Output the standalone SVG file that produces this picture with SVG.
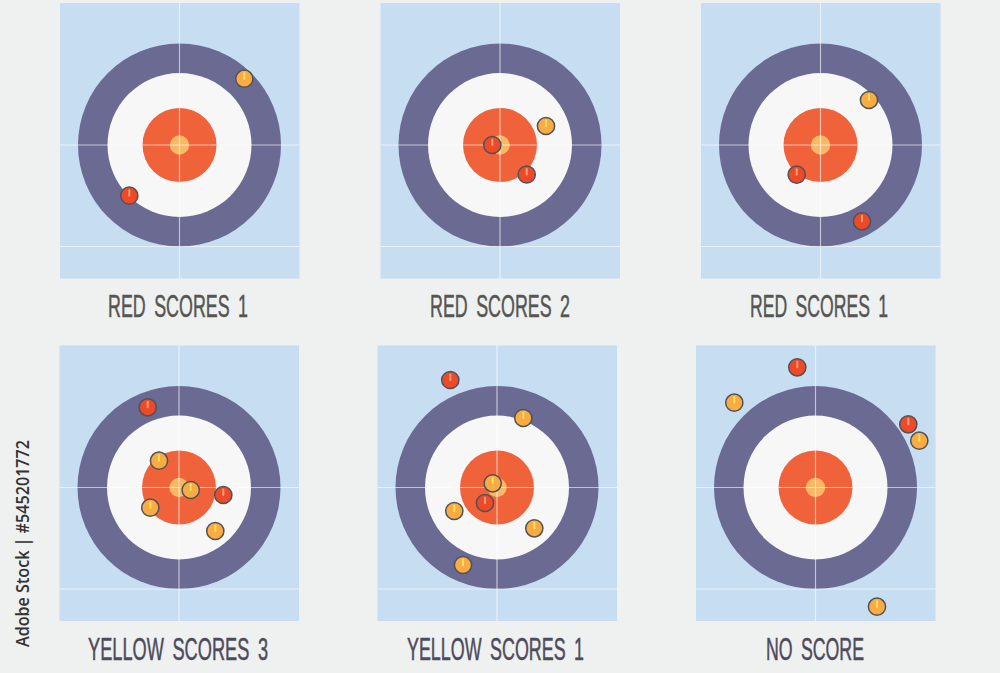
<svg xmlns="http://www.w3.org/2000/svg" xmlns:xlink="http://www.w3.org/1999/xlink" width="1000" height="673" viewBox="0 0 1000 673">
<style>
.bg{fill:#eff1f1}
.panel{fill:#c6ddf2}
.ring{fill:#6a6a93}
.house{fill:#f7f7f7}
.button{fill:#f0623a}
.tee{fill:#f8b865}
.guide{stroke:#ffffff;stroke-opacity:0.6;stroke-width:1.2;fill:none}
.sr{fill:#ee4a2a;stroke:#4f5358;stroke-width:1.5}
.sy{fill:#f9ab44;stroke:#4f5358;stroke-width:1.5}
.hr{stroke:#f5a070;stroke-width:2;stroke-linecap:round}
.hy{stroke:#fde15c;stroke-width:2;stroke-linecap:round}
.lbl{font-family:"Liberation Sans Narrow","Liberation Sans","DejaVu Sans",sans-serif;font-size:31px;text-anchor:middle;word-spacing:6px;stroke-width:0.5px}
.l1{fill:#555652;stroke:#555652}
.l2{fill:#4e4b5c;stroke:#4e4b5c}
.wm{font-family:"Open Sans","Noto Sans",sans-serif;font-weight:600;font-size:18px;fill:#333333}
</style>
<defs>
<g id="target">
<rect class="panel" x="-119.5" y="-142" width="239.5" height="275.5"/>
<circle class="ring" r="101.5"/>
<circle class="house" r="72"/>
<circle class="button" r="37"/>
<circle class="tee" r="9.7"/>
<line class="guide" x1="0" y1="-142" x2="0" y2="133.5"/>
<line class="guide" x1="-119.5" y1="0" x2="120" y2="0"/>
<line class="guide" x1="-119.5" y1="101.5" x2="120" y2="101.5"/>
</g>
<g id="rs"><circle class="sr" r="8.6"/><line class="hr" x1="0" y1="-5.5" x2="0" y2="0"/></g>
<g id="ys"><circle class="sy" r="8.6"/><line class="hy" x1="0" y1="-5.5" x2="0" y2="0"/></g>
</defs>
<rect class="bg" x="0" y="0" width="1000" height="673"/>

<g id="panel1">
<use xlink:href="#target" href="#target" x="179.5" y="145"/>
<use xlink:href="#ys" href="#ys" x="244.3" y="78.7"/>
<use xlink:href="#rs" href="#rs" x="129.3" y="195.7"/>
<text class="lbl l1" x="178" y="317" textLength="140" lengthAdjust="spacingAndGlyphs">RED SCORES 1</text>
</g>

<g id="panel2">
<use xlink:href="#target" href="#target" x="500" y="145"/>
<use xlink:href="#ys" href="#ys" x="546" y="126"/>
<use xlink:href="#rs" href="#rs" x="492.3" y="145"/>
<use xlink:href="#rs" href="#rs" x="526.7" y="174.5"/>
<text class="lbl l1" x="500" y="317" textLength="140" lengthAdjust="spacingAndGlyphs">RED SCORES 2</text>
</g>

<g id="panel3">
<use xlink:href="#target" href="#target" x="820.5" y="145"/>
<use xlink:href="#ys" href="#ys" x="869" y="100"/>
<use xlink:href="#rs" href="#rs" x="796.7" y="174.7"/>
<use xlink:href="#rs" href="#rs" x="862" y="221.3"/>
<text class="lbl l1" x="819" y="317" textLength="138" lengthAdjust="spacingAndGlyphs">RED SCORES 1</text>
</g>

<g id="panel4">
<use xlink:href="#target" href="#target" x="179" y="487.5"/>
<use xlink:href="#rs" href="#rs" x="147.7" y="407.3"/>
<use xlink:href="#ys" href="#ys" x="159" y="460.7"/>
<use xlink:href="#ys" href="#ys" x="190.7" y="490"/>
<use xlink:href="#rs" href="#rs" x="223.3" y="495"/>
<use xlink:href="#ys" href="#ys" x="150.3" y="507.7"/>
<use xlink:href="#ys" href="#ys" x="215.3" y="531"/>
<text class="lbl l2" x="178" y="660" textLength="180" lengthAdjust="spacingAndGlyphs">YELLOW SCORES 3</text>
</g>

<g id="panel5">
<use xlink:href="#target" href="#target" x="497" y="487.5"/>
<use xlink:href="#rs" href="#rs" x="450.3" y="380"/>
<use xlink:href="#ys" href="#ys" x="523.3" y="418"/>
<use xlink:href="#rs" href="#rs" x="485" y="503"/>
<use xlink:href="#ys" href="#ys" x="492.7" y="483.3"/>
<use xlink:href="#ys" href="#ys" x="454.3" y="511"/>
<use xlink:href="#ys" href="#ys" x="534.3" y="528.3"/>
<use xlink:href="#ys" href="#ys" x="463" y="565"/>
<text class="lbl l2" x="495.5" y="660" textLength="177" lengthAdjust="spacingAndGlyphs">YELLOW SCORES 1</text>
</g>

<g id="panel6">
<use xlink:href="#target" href="#target" x="815.5" y="487.5"/>
<use xlink:href="#rs" href="#rs" x="797.3" y="367.3"/>
<use xlink:href="#ys" href="#ys" x="734.3" y="402.7"/>
<use xlink:href="#rs" href="#rs" x="908.3" y="424.3"/>
<use xlink:href="#ys" href="#ys" x="919.3" y="440.7"/>
<use xlink:href="#ys" href="#ys" x="877" y="606.7"/>
<text class="lbl l2" x="815" y="660" textLength="98" lengthAdjust="spacingAndGlyphs">NO SCORE</text>
</g>

<g id="connectors"></g>

<text class="wm" transform="translate(29,647) rotate(-90)" textLength="207" lengthAdjust="spacingAndGlyphs">Adobe Stock | #545201772</text>
</svg>
